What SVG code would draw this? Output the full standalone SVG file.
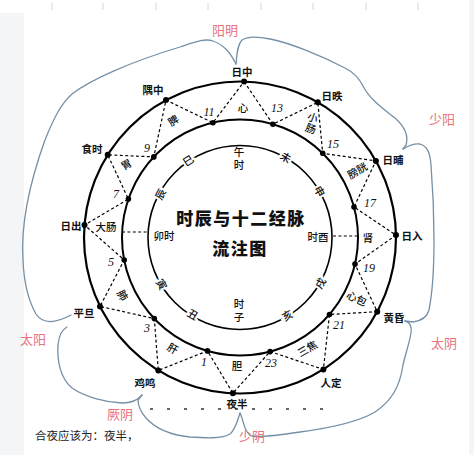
<svg xmlns="http://www.w3.org/2000/svg" width="474" height="455" viewBox="0 0 474 455">
<style>
.ring{fill:none;stroke:#000}
.dot{fill:#000}
.zig{fill:none;stroke:#000;stroke-width:1.2;stroke-dasharray:3 2.4}
.brace{fill:none;stroke:#7590a6;stroke-width:1.3;stroke-linejoin:round;stroke-linecap:round}
.t{font-family:"Noto Sans CJK SC","Noto Sans",sans-serif;font-weight:700;fill:#111;text-anchor:middle;dominant-baseline:central}
.tm{font-size:10.5px}
.mer{font-size:10.5px;font-weight:500}
.vert{writing-mode:vertical-rl;letter-spacing:2.5px}
.br{font-size:10.5px;font-weight:500;stroke:#fff;stroke-width:4;paint-order:stroke}
.num{font-family:"Liberation Serif",serif;font-style:italic;font-size:12px;fill:#111;text-anchor:middle;dominant-baseline:central}
.title{font-size:17px;font-weight:800;letter-spacing:1.5px}
.ch{font-family:"Noto Sans CJK SC","Noto Sans",sans-serif;font-size:13px;fill:#e8737f;text-anchor:middle;dominant-baseline:central}
</style>
<rect width="474" height="455" fill="#fff"/>
<g id="page-edges">
<rect x="0" y="13" width="24" height="442" fill="#f4f5f7"/>
<rect x="469" y="0" width="5" height="455" fill="#f4f5f7"/>
<g stroke="#d4d6da" stroke-width="1">
<line x1="52" y1="3" x2="52" y2="10"/><line x1="103" y1="3" x2="103" y2="10"/><line x1="156" y1="3" x2="156" y2="10"/><line x1="208" y1="3" x2="208" y2="10"/><line x1="261" y1="3" x2="261" y2="10"/><line x1="313" y1="3" x2="313" y2="10"/><line x1="366" y1="3" x2="366" y2="10"/><line x1="418" y1="3" x2="418" y2="10"/>
</g>
</g>

<g id="rings">
<circle class="ring" cx="240" cy="237.5" r="156" stroke-width="2.2"/>
<circle class="ring" cx="240" cy="237.5" r="118" stroke-width="2"/>
<circle class="ring" cx="240" cy="237.5" r="92" stroke-width="1.6"/>
</g>

<g id="connectors">
<polygon class="zig" points="244.1,81.6 272.9,124.2 317.8,102.3 322.7,153.3 375.9,160.9 354.0,207.0 396.0,235.1 355.0,264.1 377.2,311.7 329.5,314.5 323.4,369.4 270.1,351.6 232.9,393.3 207.5,350.9 158.3,370.4 154.3,318.6 100.0,306.4 124.2,260.0 84.5,225.0 128.4,199.1 107.7,154.8 153.8,156.9 166.0,100.1 212.9,122.7"/>
<line class="zig" x1="122" y1="232" x2="149" y2="232"/>
<line class="zig" x1="333" y1="236" x2="358" y2="236"/>
<line x1="150" y1="409" x2="332" y2="409" stroke="#333" stroke-width="1.6" stroke-dasharray="3 14"/>
</g>

<g id="braces">
<path class="brace" d="M71,315 C58,322 44,326 36,314 C28,300 24,285 23,260 C21,230 27,190 45,140 C55,115 62,103 72,94 C90,80 130,62 180,47 C195,42 205,38 213,41 C224,45 230,52 236,64"/>
<path class="brace" d="M236,64 C237,55 237,45 242,40 C248,36 256,36 270,39 C290,43 320,55 345,68 C355,73 360,80 363,86 C370,100 385,110 395,118 C404,126 409,135 406,145 L403,149"/>
<path class="brace" d="M403,149 C408,146 414,143 420,144 C427,146 430,152 431,165 C433,190 434,215 434,240 C434,270 432,295 429,310 C427,318 420,321 413,322 L405,321"/>
<path class="brace" d="M405,321 C410,322 412,326 411,333 C409,345 405,355 403,365 C400,385 393,400 375,412 C360,421 330,428 300,432 C280,435 260,438 252,436 C246,434 244,425 242,418 L240,413"/>
<path class="brace" d="M240,413 C238,420 235,430 230,434 C222,439 205,438 190,437 C170,435 155,428 146,418 C140,411 138,405 138,400 L142,395"/>
<path class="brace" d="M142,395 C138,400 132,403 122,403 C105,402 85,397 72,388 C60,378 57,360 58,345 C59,335 63,329 67,327"/>
</g>

<g id="channel-labels">
<text class="ch" x="225" y="29">阳明</text>
<text class="ch" x="442" y="118">少阳</text>
<text class="ch" x="444" y="342">太阴</text>
<text class="ch" x="252" y="435">少阴</text>
<text class="ch" x="120" y="413">厥阴</text>
<text class="ch" x="33" y="338">太阳</text>
</g>

<g id="outer-dots">
<circle class="dot" cx="244.1" cy="81.6" r="3"/><circle class="dot" cx="317.8" cy="102.3" r="3"/><circle class="dot" cx="375.9" cy="160.9" r="3"/><circle class="dot" cx="396" cy="235.1" r="3"/><circle class="dot" cx="377.2" cy="311.7" r="3"/><circle class="dot" cx="323.4" cy="369.4" r="3"/><circle class="dot" cx="232.9" cy="393.3" r="3"/><circle class="dot" cx="158.3" cy="370.4" r="3"/><circle class="dot" cx="100" cy="306.4" r="3"/><circle class="dot" cx="84.5" cy="225" r="3"/><circle class="dot" cx="107.7" cy="154.8" r="3"/><circle class="dot" cx="166" cy="100.1" r="3"/>
</g>
<g id="middle-dots">
<circle class="dot" cx="212.9" cy="122.7" r="2.8"/><circle class="dot" cx="272.9" cy="124.2" r="2.8"/><circle class="dot" cx="322.7" cy="153.3" r="2.8"/><circle class="dot" cx="354" cy="207" r="2.8"/><circle class="dot" cx="355" cy="264.1" r="2.8"/><circle class="dot" cx="329.5" cy="314.5" r="2.8"/><circle class="dot" cx="270.1" cy="351.6" r="2.8"/><circle class="dot" cx="207.5" cy="350.9" r="2.8"/><circle class="dot" cx="154.3" cy="318.6" r="2.8"/><circle class="dot" cx="124.2" cy="260" r="2.8"/><circle class="dot" cx="128.4" cy="199.1" r="2.8"/><circle class="dot" cx="153.8" cy="156.9" r="2.8"/>
</g>

<g id="time-labels">
<g id="node-rizhong"><text class="t tm" x="242" y="71">日中</text></g>
<g id="node-ridie"><text class="t tm" x="332" y="95">日昳</text></g>
<g id="node-ribu"><text class="t tm" x="393" y="159">日晡</text></g>
<g id="node-riru"><text class="t tm" x="412" y="235">日入</text></g>
<g id="node-huanghun"><text class="t tm" x="394" y="317">黄昏</text></g>
<g id="node-rending"><text class="t tm" x="331" y="382">人定</text></g>
<g id="node-yeban"><text class="t tm" x="237" y="403">夜半</text></g>
<g id="node-jiming"><text class="t tm" x="145" y="382">鸡鸣</text></g>
<g id="node-pingdan"><text class="t tm" x="84" y="312">平旦</text></g>
<g id="node-richu"><text class="t tm" x="71" y="225">日出</text></g>
<g id="node-shishi"><text class="t tm" x="92" y="148">食时</text></g>
<g id="node-yuzhong"><text class="t tm" x="153" y="89">隅中</text></g>
</g>

<g id="meridians">
<text class="t mer" x="243" y="107">心</text>
<text class="t mer" x="313" y="117" transform="rotate(20 313 117)">小</text>
<text class="t mer" x="311" y="128" transform="rotate(20 311 128)">肠</text>
<text class="t mer" x="357" y="170" transform="rotate(-30 357 170)">膀胱</text>
<text class="t mer" x="368" y="237">肾</text>
<text class="t mer" x="357" y="298" transform="rotate(25 357 298)">心包</text>
<text class="t mer" x="307" y="348" transform="rotate(-30 307 348)">三焦</text>
<text class="t mer" x="237" y="365">胆</text>
<text class="t mer" x="173" y="348" transform="rotate(30 173 348)">肝</text>
<text class="t mer" x="123" y="295" transform="rotate(60 123 295)">肺</text>
<text class="t mer" x="106" y="226">大肠</text>
<text class="t mer" x="126" y="164" transform="rotate(-30 126 164)">胃</text>
<text class="t mer" x="173" y="120" transform="rotate(-35 173 120)">脾</text>
</g>

<g id="hours">
<text class="num" x="209" y="112">11</text>
<text class="num" x="277" y="108">13</text>
<text class="num" x="333" y="144">15</text>
<text class="num" x="370" y="203">17</text>
<text class="num" x="369" y="268">19</text>
<text class="num" x="339" y="325">21</text>
<text class="num" x="271" y="363">23</text>
<text class="num" x="204" y="362">1</text>
<text class="num" x="147" y="328">3</text>
<text class="num" x="111" y="262">5</text>
<text class="num" x="116" y="194">7</text>
<text class="num" x="147" y="148">9</text>
</g>

<g id="branches">
<text class="t br" x="188" y="160" transform="rotate(-33 188 160)">巳</text>
<text class="t br" x="160" y="194" transform="rotate(-62 160 194)">辰</text>
<text class="t br" x="286" y="157" transform="rotate(30 286 157)">未</text>
<text class="t br" x="320" y="191" transform="rotate(60 320 191)">申</text>
<text class="t br" x="320" y="283" transform="rotate(-60 320 283)">戌</text>
<text class="t br" x="287" y="315" transform="rotate(-30 287 315)">亥</text>
<text class="t br" x="193" y="314" transform="rotate(30 193 314)">丑</text>
<text class="t br" x="162" y="284" transform="rotate(60 162 284)">寅</text>
<text class="t mer vert" x="239" y="160">午时</text>
<text class="t mer vert" x="239" y="312">时子</text>
<text class="t mer" x="164" y="235">卯时</text>
<text class="t mer" x="318" y="236">时酉</text>
</g>

<g id="title">
<text class="t title" x="241" y="217">时辰与十二经脉</text>
<text class="t title" x="240" y="247">流注图</text>
</g>

<text x="35" y="440" font-family="'Noto Sans CJK SC','Noto Sans',sans-serif" font-size="11.5" fill="#222">合夜应该为：夜半，</text>
</svg>
